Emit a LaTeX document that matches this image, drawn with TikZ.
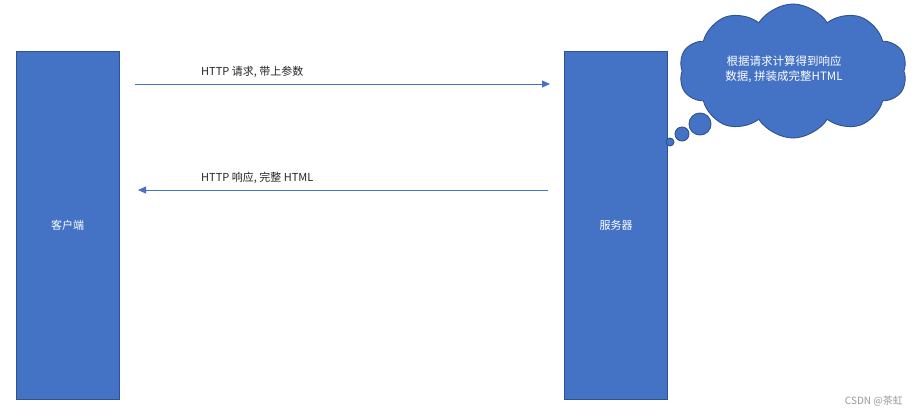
\documentclass[tikz,border=0pt]{standalone}
\usepackage{fontspec}
\setmainfont{Noto Sans CJK SC}
\usetikzlibrary{shapes.symbols,arrows.meta}
\definecolor{boxfill}{HTML}{4472C4}
\definecolor{boxline}{HTML}{2F528F}
\definecolor{txt}{HTML}{262626}
\begin{document}
\begin{tikzpicture}[x=1pt,y=-1pt,
  pillar/.style={draw=boxline,line width=0.9pt,fill=boxfill,text=white,minimum width=103pt,minimum height=348pt,inner sep=0pt,font=\fontsize{11}{12}\selectfont},
  msg/.style={draw=boxfill,line width=0.8pt,-{Triangle[length=8pt,width=7pt]}},
  lbl/.style={text=txt,font=\fontsize{11}{12}\selectfont,anchor=west,inner sep=0pt},
  bubble/.style={circle,draw=boxline,line width=0.9pt,fill=boxfill,inner sep=0pt}]
\useasboundingbox[fill=white] (0,0) rectangle (917,416);
\node[pillar] (client) at (67.5,225) {客户端};
\node[pillar] (server) at (616,225) {服务器};
\coordinate (a1s) at (135,84);
\coordinate (a1e) at (550,84);
\coordinate (a2s) at (548,190);
\coordinate (a2e) at (138,190);
\draw[msg] (a1s) -- (a1e);
\draw[msg] (a2s) -- (a2e);
\node[lbl] (l1) at (201,72) {HTTP 请求, 带上参数};
\node[lbl] (l2) at (201,178) {HTTP 响应, 完整 HTML};
\node[cloud,cloud puffs=10,cloud puff arc=115,aspect=1.75,draw=boxline,line width=0.9pt,fill=boxfill,minimum width=228pt,minimum height=134pt,inner sep=0pt] (cloud) at (793,71) {};
\node[text=white,font=\fontsize{11.5}{14.5}\selectfont,align=center] (ctext) at (784,69) {根据请求计算得到响应\\数据, 拼装成完整HTML};
\node[bubble,minimum size=22pt] (b3) at (700,124) {};
\node[bubble,minimum size=14pt] (b2) at (682,134) {};
\node[bubble,minimum size=8pt] (b1) at (670,142) {};
\node[text=gray!80,font=\fontsize{10}{11}\selectfont,anchor=east,inner sep=0pt] (wm) at (903,401) {CSDN @茶虹};
\end{tikzpicture}
\end{document}
